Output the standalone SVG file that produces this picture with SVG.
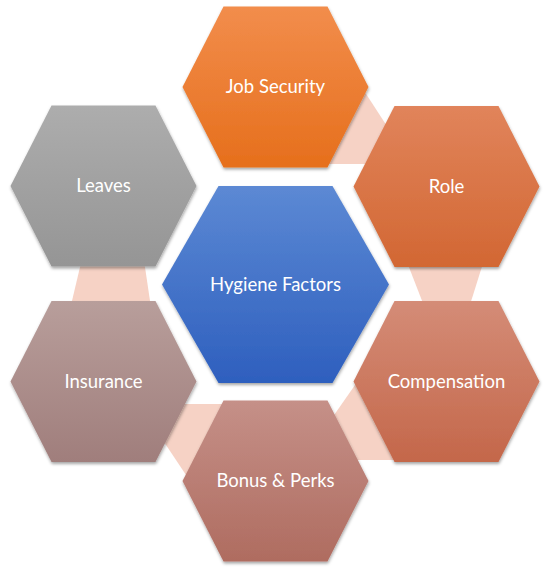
<svg xmlns="http://www.w3.org/2000/svg" width="550" height="573" viewBox="0 0 550 573">
<defs>
<linearGradient id="gJS" x1="0" y1="0" x2="0" y2="1"><stop offset="0" stop-color="#F28D4C"/><stop offset="1" stop-color="#E66F1C"/></linearGradient>
<linearGradient id="gRole" x1="0" y1="0" x2="0" y2="1"><stop offset="0" stop-color="#E1845B"/><stop offset="1" stop-color="#D26733"/></linearGradient>
<linearGradient id="gComp" x1="0" y1="0" x2="0" y2="1"><stop offset="0" stop-color="#D48C77"/><stop offset="1" stop-color="#C4674A"/></linearGradient>
<linearGradient id="gBonus" x1="0" y1="0" x2="0" y2="1"><stop offset="0" stop-color="#C59088"/><stop offset="1" stop-color="#AF6C60"/></linearGradient>
<linearGradient id="gIns" x1="0" y1="0" x2="0" y2="1"><stop offset="0" stop-color="#B89E9B"/><stop offset="1" stop-color="#A07E7C"/></linearGradient>
<linearGradient id="gLeaves" x1="0" y1="0" x2="0" y2="1"><stop offset="0" stop-color="#ADADAD"/><stop offset="1" stop-color="#959595"/></linearGradient>
<linearGradient id="gCenter" x1="0" y1="0" x2="0" y2="1"><stop offset="0" stop-color="#5C89D4"/><stop offset="1" stop-color="#2E5FBE"/></linearGradient>
<filter id="sh" x="-10%" y="-10%" width="120%" height="125%"><feDropShadow dx="0.5" dy="2" stdDeviation="1.8" flood-color="#000" flood-opacity="0.35"/></filter>
</defs>
<style>
.conn{fill:#F6D2C5;}
.hex{filter:url(#sh);}
.lbl{font-family:Lato,"Open Sans","Liberation Sans",sans-serif;font-size:18.5px;fill:#FFFFFF;text-anchor:middle;}
</style>
<g id="connectors">
<polygon class="conn" points="357,80 396,140 375,164 320,164"/>
<polygon class="conn" points="405,257 485,257 468,311 426,311"/>
<polygon class="conn" points="362,375 400,460 350,460 330.6,420"/>
<polygon class="conn" points="175,404 230,404 196,490 156,430"/>
<polygon class="conn" points="82.4,257 143.5,257 151.5,311 69.6,311"/>
</g>
<g id="node-job-security">
<polygon class="hex" fill="url(#gJS)" points="182.5,87 223.5,6.5 327.5,6.5 368.5,87 327.5,167.5 223.5,167.5"/>
<text class="lbl" x="275.5" y="93">Job Security</text>
</g>
<g id="node-role">
<polygon class="hex" fill="url(#gRole)" points="353.5,186.5 394.5,106 498.5,106 539.5,186.5 498.5,267 394.5,267"/>
<text class="lbl" x="446.5" y="192.5">Role</text>
</g>
<g id="node-compensation">
<polygon class="hex" fill="url(#gComp)" points="353.5,381.5 394.5,301 498.5,301 539.5,381.5 498.5,462 394.5,462"/>
<text class="lbl" x="446.5" y="387.5">Compensation</text>
</g>
<g id="node-bonus-perks">
<polygon class="hex" fill="url(#gBonus)" points="182.5,481 223.5,400.5 327.5,400.5 368.5,481 327.5,561.5 223.5,561.5"/>
<text class="lbl" x="275.5" y="487">Bonus &amp; Perks</text>
</g>
<g id="node-insurance">
<polygon class="hex" fill="url(#gIns)" points="10.5,381.5 51.5,301 155.5,301 196.5,381.5 155.5,462 51.5,462"/>
<text class="lbl" x="103.5" y="387.5">Insurance</text>
</g>
<g id="node-leaves">
<polygon class="hex" fill="url(#gLeaves)" points="10.5,186 51.5,105.5 155.5,105.5 196.5,186 155.5,266.5 51.5,266.5"/>
<text class="lbl" x="103.5" y="192">Leaves</text>
</g>
<g id="node-hygiene-factors">
<polygon class="hex" fill="url(#gCenter)" points="162,284.5 218.5,186 332.5,186 389,284.5 332.5,383 218.5,383"/>
<text class="lbl" x="275.5" y="290.5">Hygiene Factors</text>
</g>
</svg>
